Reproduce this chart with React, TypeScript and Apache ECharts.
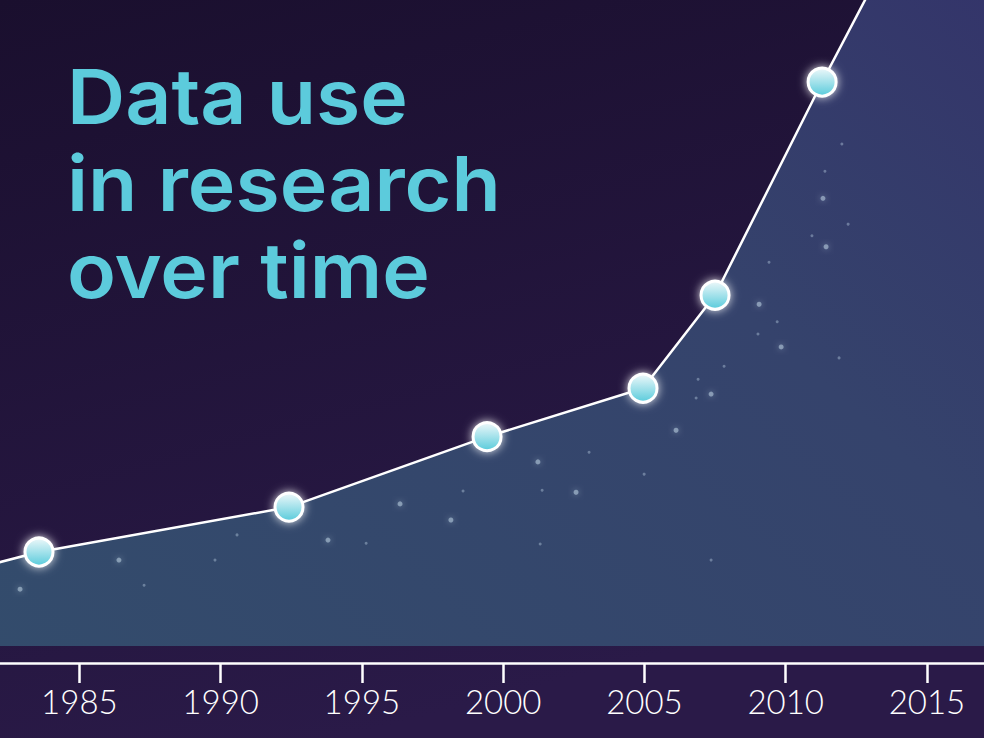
import React, { useEffect, useRef } from "react";
import * as echarts from "echarts";

// Chart data (x = year, y = relative data use, 0–100 visible range)
const years = [1981.5, 1983.57, 1992.42, 1999.43, 2004.95, 2007.5, 2011.29, 2018];
const values = [12.2, 14.55, 21.5, 32.4, 39.9, 54.3, 87.3, 143.4];
const markerShown = [false, true, true, true, true, true, true, false];

// Decorative "stars" inside the area: [year, value]
const starsBig: [number, number][] = [
  [1982.9, 8.8], [1986.4, 13.3], [1993.8, 16.4], [1996.35, 22.0], [1998.15, 19.5],
  [2001.23, 28.5], [2002.58, 23.8], [2006.12, 33.4], [2007.36, 39.0], [2009.06, 52.9],
  [2009.84, 46.3], [2011.43, 61.8], [2011.32, 69.3],
];
const starsSmall: [number, number][] = [
  [1987.29, 9.4], [1989.8, 13.3], [1990.58, 17.2], [1995.15, 15.9], [1998.58, 24.0],
  [2001.31, 15.8], [2001.38, 24.1], [2003.04, 30.0], [2004.99, 26.6], [2006.83, 38.4],
  [2006.9, 41.3], [2007.82, 43.3], [2007.36, 13.3], [2009.41, 59.4], [2009.7, 50.2],
  [2009.02, 48.3], [2011.89, 44.6], [2010.93, 63.5], [2012.21, 65.3], [2011.39, 73.5],
  [2011.99, 77.7],
];

const tickYears = [1985, 1990, 1995, 2000, 2005, 2010, 2015];
const titleLines = ["Data use", "in research", "over time"];

const X_MIN = 1982.19;
const X_MAX = 2017.02;

export default function App() {
  const ref = useRef<HTMLDivElement>(null);

  useEffect(() => {
    if (!ref.current) return;
    const chart = echarts.init(ref.current, undefined, { renderer: "svg" });

    const lineData = years.map((y, i) => ({
      value: [y, values[i]],
      symbol: markerShown[i] ? "circle" : "none",
    }));

    const markerFill = new echarts.graphic.LinearGradient(0, 0, 0, 1, [
      { offset: 0, color: "#eef8fa" },
      { offset: 1, color: "#58cbdb" },
    ]);

    chart.setOption({
      animation: false,
      backgroundColor: new echarts.graphic.LinearGradient(0, 0, 0.35, 1, [
        { offset: 0, color: "#1a0f2e" },
        { offset: 1, color: "#2a1a48" },
      ]),
      grid: {
        left: 0,
        right: 0,
        top: 0,
        bottom: 92,
        containLabel: false,
        outerBoundsMode: "none",
      },
      xAxis: {
        type: "value",
        min: X_MIN,
        max: X_MAX,
        offset: 17,
        splitLine: { show: false },
        axisLine: { show: true, onZero: false, lineStyle: { color: "#ffffff", width: 2.5 } },
        axisTick: {
          show: true,
          length: 20,
          customValues: tickYears,
          lineStyle: { color: "#ffffff", width: 2.5 },
        },
        axisLabel: {
          color: "#ffffff",
          fontSize: 33,
          fontFamily: "Lato",
          fontWeight: 300,
          margin: 21,
          customValues: tickYears,
          formatter: (v: number) => String(v),
        },
      },
      yAxis: {
        type: "value",
        min: 0,
        max: 100,
        show: false,
        splitLine: { show: false },
      },
      series: [
        {
          type: "line",
          data: lineData,
          clip: true,
          z: 3,
          symbolSize: 28,
          lineStyle: { color: "#ffffff", width: 2.5 },
          itemStyle: {
            color: markerFill,
            borderColor: "#ffffff",
            borderWidth: 3,
            shadowBlur: 10,
            shadowColor: "rgba(255,255,255,0.85)",
          },
          areaStyle: {
            opacity: 1,
            color: new echarts.graphic.LinearGradient(0, 1, 1, 0, [
              { offset: 0, color: "#334c6c" },
              { offset: 0.55, color: "#35436c" },
              { offset: 1, color: "#332d69" },
            ]),
          },
          emphasis: { disabled: true },
        },
        {
          type: "scatter",
          data: starsBig,
          z: 4,
          symbolSize: 5,
          itemStyle: {
            color: "rgba(200,220,235,0.65)",
            shadowBlur: 6,
            shadowColor: "rgba(210,230,245,0.8)",
          },
          emphasis: { disabled: true },
        },
        {
          type: "scatter",
          data: starsSmall,
          z: 4,
          symbolSize: 3,
          itemStyle: { color: "rgba(180,200,220,0.55)" },
          emphasis: { disabled: true },
        },
      ],
      graphic: titleLines.map((t, i) => ({
        type: "text",
        x: 67,
        y: 58 + i * 87,
        scaleX: 1.06,
        style: {
          text: t,
          fill: "#5ccbdc",
          font: "600 76px Inter",
        },
      })),
    });

    return () => chart.dispose();
  }, []);

  return (
    <div
      ref={ref}
      style={{ position: "absolute", left: 0, top: 0, width: 984, height: 738 }}
    />
  );
}
